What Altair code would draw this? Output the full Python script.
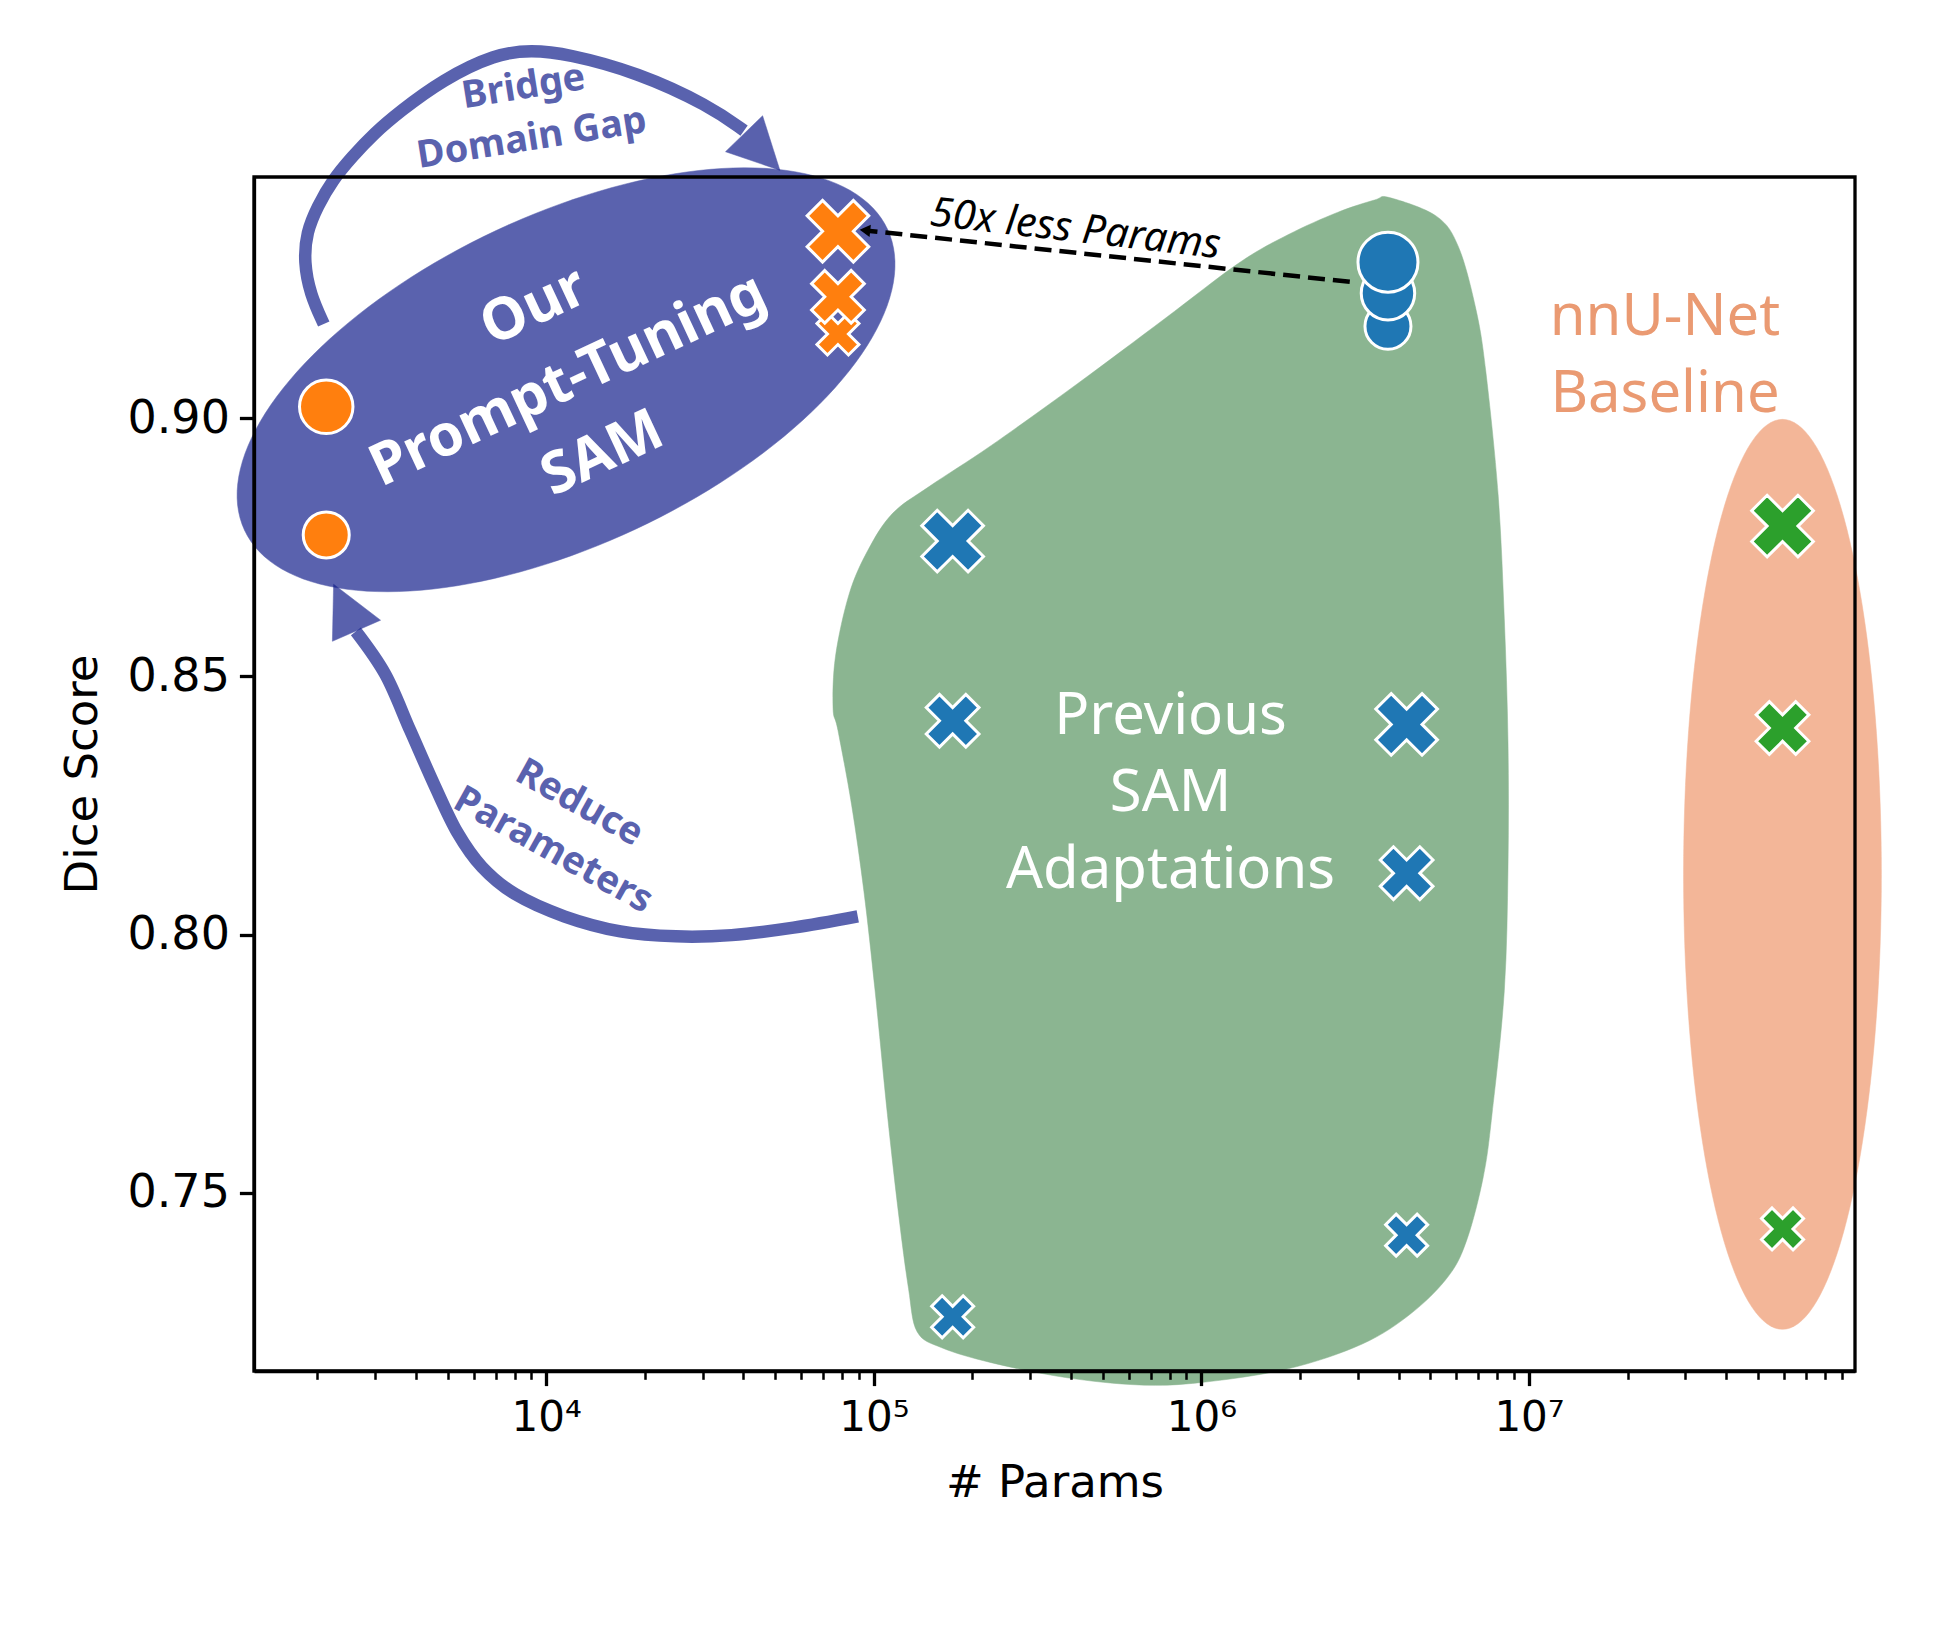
import altair as alt
import numpy as np
import pandas as pd

# ---------------- data ----------------
params = [2130, 2130, 77700, 77700, 77700,
          3710000, 3710000, 3710000,
          174000, 174000, 174000,
          4230000, 4230000, 4230000,
          59400000, 59400000, 59400000]
dice = [0.9022, 0.8774, 0.9362, 0.9235, 0.9163,
        0.9302, 0.9242, 0.9178,
        0.8762, 0.8414, 0.7260,
        0.8407, 0.8119, 0.7418,
        0.8791, 0.8400, 0.7430]
method = (["Prompt-Tuning SAM"] * 5 + ["Previous SAM Adaptations"] * 9 + ["nnU-Net"] * 3)
marker = ["o", "o", "X", "X", "X", "o", "o", "o"] + ["X"] * 9
level = ["M", "S", "L", "M", "S", "L", "M", "S", "L", "M", "S", "L", "M", "S", "L", "M", "S"]

methods = ["Prompt-Tuning SAM", "Previous SAM Adaptations", "nnU-Net"]
method_colors = ["#ff7f0e", "#1f77b4", "#2ca02c"]

x_ticks = [1e4, 1e5, 1e6, 1e7]
y_ticks = [0.75, 0.80, 0.85, 0.90]

# annotation shapes, in data units (log10 #params, dice)
blob_log10 = [6.5736, 6.7170, 6.7849, 6.8377, 6.8679, 6.9057, 6.9245, 6.9358, 6.9358,
              6.9245, 6.8868, 6.8604, 6.8113, 6.7547, 6.6415, 6.4906, 6.2642, 6.0000,
              5.8113, 5.5849, 5.3585, 5.2075, 5.1321, 5.1057, 5.0755, 5.0415, 5.0038,
              4.9698, 4.9321, 4.8906, 4.8755, 4.8830, 4.9245, 4.9811, 5.0566, 5.1698,
              5.3585, 5.6226, 5.8868, 6.1132, 6.2642, 6.4151, 6.5283]
blob_dice = [0.94272, 0.93912, 0.93312, 0.92112, 0.90912, 0.88512, 0.86112, 0.83712, 0.81312,
             0.78912, 0.76512, 0.75312, 0.74112, 0.73392, 0.72672, 0.72072, 0.71592, 0.71328,
             0.71280, 0.71424, 0.71712, 0.72000, 0.72312, 0.73152, 0.74592, 0.76512, 0.78912,
             0.80832, 0.82512, 0.83952, 0.84384, 0.85392, 0.86592, 0.87432, 0.88152, 0.88680,
             0.89472, 0.90672, 0.91920, 0.93000, 0.93552, 0.93984, 0.94224]

# ellipses: centre and two conjugate semi-axis vectors, in (log10 #params, dice)
ours_ellipse = dict(c=(4.0604, 0.90744), u=(0.9815, 0.02912), v=(0.2121, -0.02893))
nnunet_ellipse = dict(c=(7.7736, 0.81167), u=(0.3019, 0.0), v=(0.0, 0.0881))

bridge_log10 = [3.3208, 3.2792, 3.2604, 3.2679, 3.3019, 3.3472, 3.4075, 3.4755, 3.5509,
                3.6830, 3.8453, 3.9547, 4.0642, 4.2792, 4.4981, 4.6038]
bridge_dice = [0.91824, 0.92400, 0.93024, 0.93600, 0.94104, 0.94608, 0.95064, 0.95520,
               0.95928, 0.96552, 0.97056, 0.97128, 0.97056, 0.96696, 0.96048, 0.95568]
bridge_head_log10 = [4.7132, 4.5472, 4.6604]
bridge_head_dice = [0.94800, 0.95160, 0.95856]

reduce_log10 = [4.9509, 4.7547, 4.5660, 4.3962, 4.2264, 4.0566, 3.9057, 3.8038, 3.7283,
                3.6604, 3.5849, 3.5094, 3.4189]
reduce_dice = [0.80352, 0.80134, 0.79990, 0.79966, 0.80062, 0.80350, 0.80782, 0.81310,
               0.81982, 0.82871, 0.83951, 0.85031, 0.85871]
reduce_head_log10 = [3.3509, 3.3472, 3.4943]
reduce_head_dice = [0.86784, 0.85680, 0.86088]

dash_log10 = [6.4528, 4.9728]
dash_dice = [0.92640, 0.93636]

texts = {
    "ours": ("Our\nPrompt-Tuning\nSAM", 4.0679, 0.90720),
    "prev": ("Previous\nSAM\nAdaptations", 5.9057, 0.82728),
    "nnunet": ("nnU-Net\nBaseline", 7.4150, 0.91200),
    "bridge": ("Bridge\nDomain Gap", 3.9434, 0.95904),
    "reduce": ("Reduce\nParameters", 4.0604, 0.82080),
    "less": ("50x less Params", 5.6151, 0.93648),
}

# ---------------- chart ----------------
W, H = 1601, 1194
X_DOMAIN = [1282, 98860000]
Y_DOMAIN = [0.7155, 0.9467]
xs = alt.Scale(type="log", domain=X_DOMAIN, nice=False)
ys = alt.Scale(domain=Y_DOMAIN, zero=False, nice=False)

ARROW = "#131f8b"
OURS_FILL = "#5a62ae"
GREEN_FILL = "#8bb591"
SALMON_FILL = "#f3b698"
SALMON_TEXT = "#ea9a72"
X_PATH = "M-0.5,-1L0,-0.5L0.5,-1L1,-0.5L0.5,0L1,0.5L0.5,1L0,0.5L-0.5,1L-1,0.5L-0.5,0L-1,-0.5Z"

minor_ticks = [k * 10 ** e for e in range(3, 8) for k in range(2, 10)
               if X_DOMAIN[0] <= k * 10 ** e <= X_DOMAIN[1]]


def shape_df(lx, ly):
    return pd.DataFrame({"p": np.power(10.0, np.asarray(lx, float)),
                         "d": np.asarray(ly, float),
                         "i": np.arange(len(lx))})


def ellipse_df(e, n=160):
    t = np.linspace(0, 2 * np.pi, n, endpoint=False)
    lx = e["c"][0] + e["u"][0] * np.cos(t) + e["v"][0] * np.sin(t)
    ly = e["c"][1] + e["u"][1] * np.cos(t) + e["v"][1] * np.sin(t)
    return shape_df(lx, ly)


def xy(axis_x=None):
    return dict(x=alt.X("p:Q", scale=xs, axis=axis_x),
                y=alt.Y("d:Q", scale=ys, axis=None),
                order=alt.Order("i:Q"))


def polygon(df, fill, interp="linear-closed", opacity=1.0, axis_x=None):
    return alt.Chart(df).mark_line(interpolate=interp, fill=fill, stroke=fill,
                                   strokeWidth=0.5, opacity=opacity).encode(**xy(axis_x))


minor_axis = alt.Axis(values=minor_ticks, labels=False, domain=False, tickColor="black",
                      tickWidth=2.5, tickSize=8.3, title=None, orient="bottom", zindex=1,
                      grid=False)

blob = polygon(shape_df(blob_log10, blob_dice), GREEN_FILL, interp="cardinal-closed",
               axis_x=minor_axis)
salmon = polygon(ellipse_df(nnunet_ellipse), SALMON_FILL)
ours = polygon(ellipse_df(ours_ellipse), OURS_FILL)

bridge = alt.Chart(shape_df(bridge_log10, bridge_dice)).mark_line(
    interpolate="basis", color=ARROW, strokeWidth=12.5, opacity=0.7, strokeCap="butt"
).encode(**xy())
bridge_head = polygon(shape_df(bridge_head_log10, bridge_head_dice), ARROW, opacity=0.7)
reduce_ = alt.Chart(shape_df(reduce_log10, reduce_dice)).mark_line(
    interpolate="cardinal", color=ARROW, strokeWidth=12.5, opacity=0.7, strokeCap="butt"
).encode(**xy())
reduce_head = polygon(shape_df(reduce_head_log10, reduce_head_dice), ARROW, opacity=0.7)

dash = alt.Chart(shape_df(dash_log10, dash_dice)).mark_line(
    color="black", strokeWidth=4.5, strokeDash=[17, 8]).encode(**xy())
dash_head = alt.Chart(shape_df(dash_log10[1:], dash_dice[1:])).mark_point(
    shape="triangle-left", filled=True, color="black", size=150, angle=6, opacity=1
).encode(x=alt.X("p:Q", scale=xs, axis=None), y=alt.Y("d:Q", scale=ys, axis=None))

pts = pd.DataFrame({"params": params, "dice": dice, "method": method,
                    "marker": marker, "level": level})

major_x_axis = alt.Axis(
    values=x_ticks, title="# Params", orient="bottom", grid=False,
    labelExpr="'10' + ['\u2070','\u00b9','\u00b2','\u00b3','\u2074','\u2075','\u2076','\u2077','\u2078'][round(log(datum.value)/LN10)]",
    labelFont="DejaVu Sans", labelFontSize=42, labelColor="black", labelPadding=12,
    titleFont="DejaVu Sans", titleFontSize=45, titleFontWeight="normal", titleColor="black",
    titlePadding=22, domainColor="black", domainWidth=3.3, tickColor="black",
    tickWidth=3.3, tickSize=14.6, zindex=1, labelFlush=False)
y_axis = alt.Axis(
    values=y_ticks, format=".2f", title="Dice Score", grid=False, orient="left",
    labelFont="DejaVu Sans", labelFontSize=46, labelColor="black", labelPadding=10,
    titleFont="DejaVu Sans", titleFontSize=45, titleFontWeight="normal", titleColor="black",
    titlePadding=21, domainColor="black", domainWidth=3.3, tickColor="black",
    tickWidth=3.3, tickSize=14.6, zindex=1)

color = alt.Color("method:N", scale=alt.Scale(domain=methods, range=method_colors), legend=None)
draw_order = alt.Order("draw:Q")
rank_expr = "datum.level == 'L' ? 3 : (datum.level == 'M' ? 2 : 1)"

circles = alt.Chart(pts).transform_filter("datum.marker == 'o'").transform_calculate(
    draw=rank_expr
).mark_point(
    shape="circle", filled=True, stroke="white", strokeWidth=3, opacity=1
).encode(
    x=alt.X("params:Q", scale=xs, axis=major_x_axis),
    y=alt.Y("dice:Q", scale=ys, axis=y_axis),
    color=color,
    size=alt.Size("level:O", scale=alt.Scale(domain=["L", "M", "S"], range=[3600, 2116, 900]),
                  legend=None),
    order=draw_order,
)
crosses = alt.Chart(pts).transform_filter("datum.marker == 'X'").transform_calculate(
    draw=rank_expr
).mark_point(
    shape=X_PATH, filled=True, stroke="white", strokeWidth=3, opacity=1
).encode(
    x=alt.X("params:Q", scale=xs, axis=None),
    y=alt.Y("dice:Q", scale=ys, axis=None),
    color=color,
    size=alt.Size("level:O", scale=alt.Scale(domain=["L", "M", "S"], range=[3800, 1764, 784]),
                  legend=None),
    order=draw_order,
)


def label(key, color_, size, weight="normal", style="normal", angle=0, line_h=None):
    txt, lx, ly = texts[key]
    n_lines = txt.count("\n") + 1
    df = pd.DataFrame({"p": [10 ** lx], "d": [ly], "t": [txt]})
    kw = dict(font="Noto Sans", fontSize=size, fontWeight=weight, fontStyle=style,
              color=color_, align="center", baseline="middle", lineBreak="\n")
    if angle:
        kw["angle"] = angle
    if line_h:
        kw["lineHeight"] = line_h
        kw["dy"] = -(n_lines - 1) * line_h / 2.0
    return alt.Chart(df).mark_text(**kw).encode(
        x=alt.X("p:Q", scale=xs, axis=None), y=alt.Y("d:Q", scale=ys, axis=None), text="t:N")


t_ours = label("ours", "white", 58, weight="bold", angle=335, line_h=81)
t_prev = label("prev", "white", 58, line_h=77)
t_nn = label("nnunet", SALMON_TEXT, 58, line_h=77)
t_bridge = label("bridge", OURS_FILL, 38, weight="bold", angle=351, line_h=52)
t_reduce = label("reduce", OURS_FILL, 38, weight="bold", angle=29, line_h=54)
t_less = label("less", "black", 41, style="italic", angle=6.5)

frame = alt.Chart(pd.DataFrame({"a": [0]})).mark_rect(
    filled=False, stroke="black", strokeWidth=3.3
).encode(x=alt.value(0), x2=alt.value(W), y=alt.value(0), y2=alt.value(H))

chart = alt.layer(
    blob, salmon, ours, bridge, bridge_head, reduce_, reduce_head,
    t_ours, t_prev, t_nn, t_bridge, t_reduce,
    circles, crosses, dash, dash_head, t_less, frame
).resolve_scale(size="independent").resolve_axis(
    x="independent", y="independent"
).properties(
    width=W, height=H,
    autosize=alt.AutoSizeParams(type="none"),
    padding={"left": 246, "top": 169, "right": 30, "bottom": 200},
).configure_view(stroke=None)

chart.save("out.html", embed_options={"renderer": "svg", "actions": False})
